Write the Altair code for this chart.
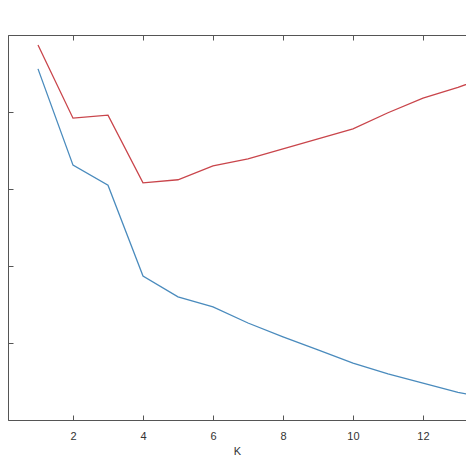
import altair as alt
import pandas as pd

k_values = [1, 2, 3, 4, 5, 6, 7, 8, 9, 10, 11, 12, 13, 14]
red_series = [4.87, 3.92, 3.96, 3.08, 3.12, 3.30, 3.39, 3.52, 3.65, 3.78, 3.99, 4.18, 4.32, 4.48]
blue_series = [4.56, 3.31, 3.05, 1.87, 1.60, 1.47, 1.26, 1.08, 0.91, 0.74, 0.60, 0.48, 0.36, 0.27]
series_names = ["Series 1", "Series 2"]
series_colors = ["#c9454b", "#4a8bbd"]
x_ticks = [2, 4, 6, 8, 10, 12]
y_ticks = [0, 1, 2, 3, 4, 5]

rows = []
for k, r, b in zip(k_values, red_series, blue_series):
    rows.append({"K": k, "value": r, "series": series_names[0]})
    rows.append({"K": k, "value": b, "series": series_names[1]})
df = pd.DataFrame(rows)

W, H = 458, 385
x_scale = alt.Scale(domain=[0.1429, 13.229], nice=False, zero=False)
y_scale = alt.Scale(domain=[0, 5], nice=False)

lines = alt.Chart(df).mark_line(strokeWidth=1.3, clip=True).encode(
    x=alt.X("K:Q", scale=x_scale, axis=alt.Axis(
        values=x_ticks, title="K", orient="bottom", domain=True, domainColor="#555",
        ticks=False, tickSize=0, labelPadding=10, labelFontSize=11, labelColor="#333",
        labelFont="Liberation Sans", titleFont="Liberation Sans", titleFontSize=11,
        titleFontWeight="normal", titleColor="#333", titlePadding=4,
        grid=True, gridColor="#555", gridOpacity=1, gridWidth=1,
        gridDash=[5, H - 10, 5, 40])),
    y=alt.Y("value:Q", scale=y_scale, axis=alt.Axis(
        values=y_ticks, title=None, labels=False, ticks=False, tickSize=0,
        domain=True, domainColor="#555", grid=True, gridColor="#555",
        gridOpacity=1, gridWidth=1, gridDash=[5, 3000])),
    color=alt.Color("series:N", scale=alt.Scale(domain=series_names, range=series_colors), legend=None),
    detail="series:N",
)

top_border = alt.Chart(df).mark_line(opacity=0, clip=True).encode(
    x=alt.X("K:Q", scale=x_scale, axis=alt.Axis(
        orient="top", labels=False, ticks=False, title=None, grid=False,
        domain=True, domainColor="#555")),
    y=alt.Y("value:Q", scale=y_scale),
    detail="series:N",
)

chart = alt.layer(lines, top_border).resolve_axis(x="independent").properties(
    width=W, height=H,
    padding={"top": 27, "left": 0, "right": 0, "bottom": 2},
).configure_view(stroke=None).configure(background="white")

chart.save("out.html", embed_options={"renderer": "svg", "actions": False})
